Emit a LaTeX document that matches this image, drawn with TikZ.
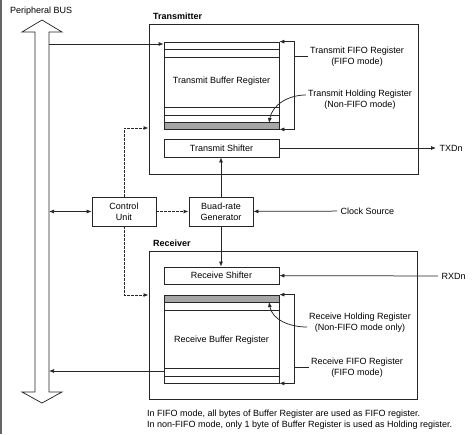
\documentclass[tikz,border=0pt]{standalone}
\usepackage{fontspec}
\setmainfont{Liberation Sans}
\usetikzlibrary{arrows.meta,positioning,calc}

\tikzset{
	>={Latex[length=5pt,width=4pt]},
	blk/.style={draw, inner sep=0pt, line width=0.75pt, align=center},
	lbl/.style={align=center, inner sep=2pt},
	ln/.style={line width=0.75pt},
	dsh/.style={->, line width=1pt, dash pattern=on 2.4pt off 1.6pt},
}

\begin{document}
\begin{tikzpicture}[x=1pt, y=-1pt, font=\fontsize{9}{11}\selectfont, draw=black!85]
\useasboundingbox (0,0) rectangle (474,434);
\fill[black!60] (0,0) rectangle (1.5,434);

\node[anchor=west, inner sep=0pt] (buslbl) at (10,11) {Peripheral BUS};
\draw[ln] (35,32) -- (22,32) -- (42,20) -- (62,32) -- (49,32) -- (49,392) -- (62,392)
	-- (42,403) -- (22,392) -- (35,392) -- cycle;
\coordinate (bustx) at (49,44);
\coordinate (busctl) at (49,211.5);
\coordinate (busrx) at (49,371);

\node[blk, minimum width=269pt, minimum height=150pt] (tx) at (283.5,99) {};
\node[anchor=base west, inner sep=0pt, font=\fontsize{9}{11}\selectfont\bfseries] (txlbl) at (153,19.5) {Transmitter};
\node[blk, minimum width=115pt, minimum height=87pt] (txbuf) at (221.5,85.5) {};
\foreach \y in {49,57,107,115}
	\draw[ln] (164,\y) -- (279,\y);
\filldraw[ln, fill=black!35] (164,122) rectangle (279,129);
\node (txbuftxt) at (221.5,81.5) {Transmit Buffer Register};
\node[blk, minimum width=115pt, minimum height=18pt] (txsh) at (221.5,148) {Transmit Shifter};

\node[blk, minimum width=64pt, minimum height=29pt] (ctrl) at (124,211.5) {Control\\Unit};
\node[blk, minimum width=64pt, minimum height=29pt] (gen) at (221,211.5) {Buad-rate\\Generator};

\node[blk, minimum width=268pt, minimum height=148pt] (rx) at (283,325) {};
\node[anchor=base west, inner sep=0pt, font=\fontsize{9}{11}\selectfont\bfseries] (rxlbl) at (153,246.5) {Receiver};
\node[blk, minimum width=115pt, minimum height=17pt] (rxsh) at (221.5,275.5) {Receive Shifter};
\node[blk, minimum width=115pt, minimum height=88pt] (rxbuf) at (221.5,339) {};
\filldraw[ln, fill=black!35] (164,295) rectangle (279,302);
\foreach \y in {310,368,376}
	\draw[ln] (164,\y) -- (279,\y);
\node (rxbuftxt) at (221.5,340) {Receive Buffer Register};

\node[lbl] (tfl) at (357,56.5) {Transmit FIFO Register\\(FIFO mode)};
\node[lbl] (thl) at (360,100) {Transmit Holding Register\\(Non-FIFO mode)};
\node[lbl] (rhl) at (360,323) {Receive Holding Register\\(Non-FIFO mode only)};
\node[lbl] (rfl) at (357,367.5) {Receive FIFO Register\\(FIFO mode)};
\node[anchor=west] (txd) at (436,148) {TXDn};
\node[anchor=west] (rxd) at (438,276) {RXDn};
\node[anchor=west] (clk) at (337,211) {Clock Source};
\node[anchor=north west, inner sep=0pt, align=left] (note) at (147,409.5)
	{In FIFO mode, all bytes of Buffer Register are used as FIFO register.\\
	In non-FIFO mode, only 1 byte of Buffer Register is used as Holding register.};

\draw[ln, ->] (bustx) -- (bustx -| txbuf.west);
\draw[ln, <->] (busctl) -- (ctrl);
\draw[ln, ->] (rxbuf.west |- busrx) -- (busrx);
\draw[dsh] (ctrl) -- (gen);
\draw[dsh] (ctrl.north) |- (tx.west |- 0,128);
\draw[dsh] (ctrl.south) |- (rx.west |- 0,295);
\draw[ln, ->] (gen) -- (gen |- txsh.south);
\draw[ln, ->] (gen) -- (gen |- rxsh.north);
\draw[ln, ->] (txsh) -- (txd);
\draw[ln, ->] (rxd) -- (rxsh);
\draw[ln, ->] (clk) -- (gen);

\draw[ln, <->] (txbuf.north east) -- ++(15,0) |- (txbuf.south east);
\draw[ln] (tfl.west) -- (tfl.west -| 294,0);
\draw[ln, ->] ([yshift=5pt]thl.west) to[out=180, in=80] (269,123);
\draw[ln, <->] (rxbuf.north east) -- ++(15,0) |- (rxbuf.south east);
\draw[ln] (rfl.west) -- (rfl.west -| 294,0);
\draw[ln, ->] ([yshift=-4pt]rhl.west) to[out=180, in=-80] (269,302);

\end{tikzpicture}
\end{document}
